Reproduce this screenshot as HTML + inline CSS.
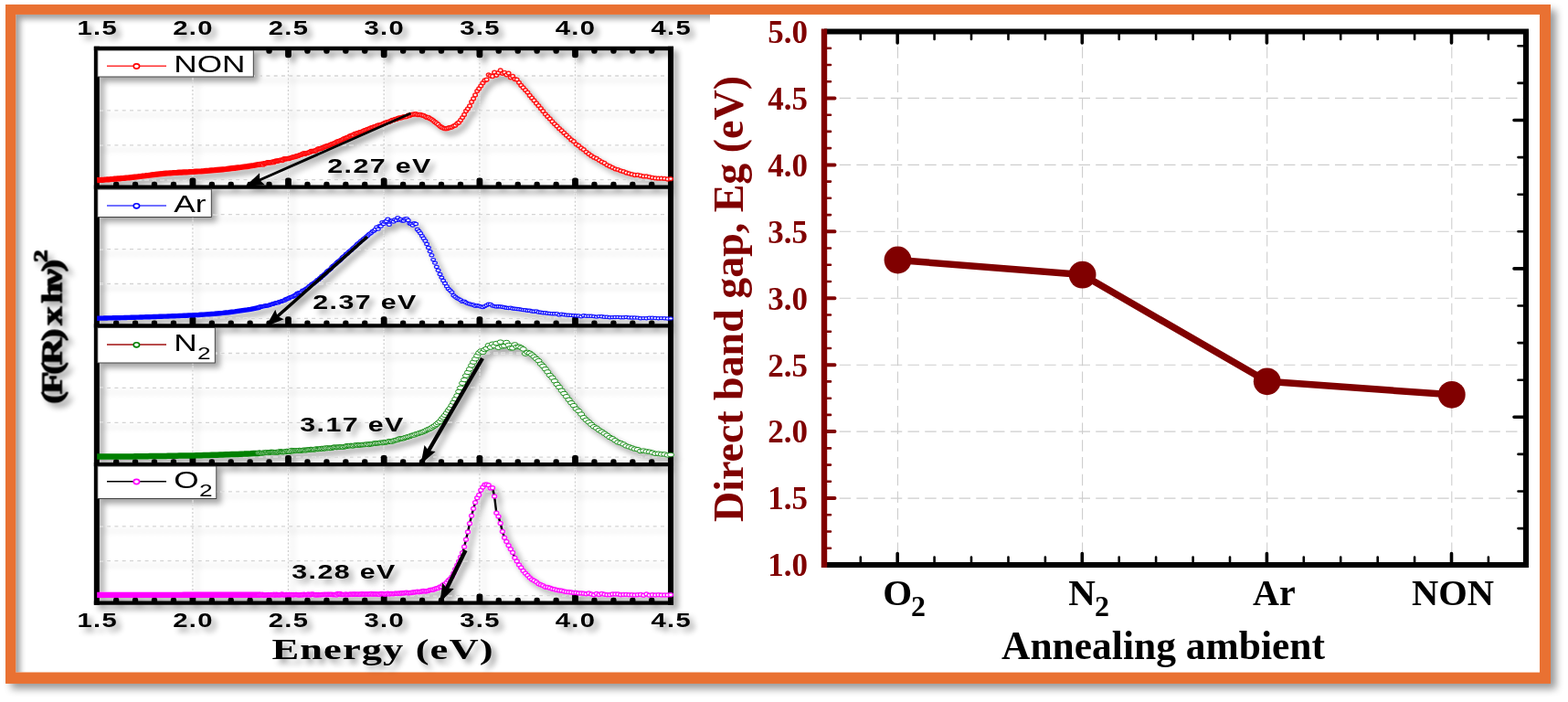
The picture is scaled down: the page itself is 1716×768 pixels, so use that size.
<!DOCTYPE html>
<html lang="en"><head><meta charset="utf-8"><title>Tauc plots and direct band gap versus annealing ambient</title>
<style>
html,body{margin:0;padding:0;background:#fff;}
body{width:1716px;height:768px;overflow:hidden;}
svg{display:block;}
.sb{font-family:"Liberation Sans",sans-serif;font-weight:bold;}
.sr{font-family:"Liberation Sans",sans-serif;}
.tb{font-family:"Liberation Serif",serif;font-weight:bold;}
</style></head><body>
<svg width="1716" height="768" viewBox="0 0 1716 768">
<defs>
<filter id="fsh" x="-5%" y="-5%" width="112%" height="112%"><feGaussianBlur in="SourceAlpha" stdDeviation="3.2"/><feOffset dx="5" dy="5"/><feComponentTransfer><feFuncA type="linear" slope="0.38"/></feComponentTransfer><feMerge><feMergeNode/><feMergeNode in="SourceGraphic"/></feMerge></filter>
<filter id="lsh" x="-5%" y="-5%" width="112%" height="112%"><feGaussianBlur in="SourceAlpha" stdDeviation="3"/><feOffset dx="5" dy="5"/><feComponentTransfer result="sh"><feFuncA type="linear" slope="0.36"/></feComponentTransfer><feGaussianBlur in="SourceGraphic" stdDeviation="0.4" result="soft"/><feMerge><feMergeNode in="sh"/><feMergeNode in="soft"/></feMerge></filter>
<marker id="m_non" markerWidth="10" markerHeight="10" refX="5" refY="5" markerUnits="userSpaceOnUse"><ellipse cx="5" cy="5" rx="2.3" ry="1.9" fill="#fff" stroke="#ff0000" stroke-opacity="0.88" stroke-width="1.5"/></marker>
<marker id="m_ar" markerWidth="10" markerHeight="10" refX="5" refY="5" markerUnits="userSpaceOnUse"><ellipse cx="5" cy="5" rx="2.4" ry="1.6" fill="#fff" stroke="#0000ff" stroke-opacity="0.88" stroke-width="1.25"/></marker>
<marker id="m_n2" markerWidth="10" markerHeight="10" refX="5" refY="5" markerUnits="userSpaceOnUse"><ellipse cx="5" cy="5" rx="3.6" ry="2.3" fill="#fff" stroke="#008000" stroke-opacity="0.88" stroke-width="1.0"/></marker>
<marker id="m_o2" markerWidth="10" markerHeight="10" refX="5" refY="5" markerUnits="userSpaceOnUse"><ellipse cx="5" cy="5" rx="2.5" ry="2.0" fill="#fff" stroke="#ff00ff" stroke-opacity="0.88" stroke-width="1.5"/></marker>
<marker id="arr" markerWidth="24" markerHeight="20" refX="18" refY="10" orient="auto" markerUnits="userSpaceOnUse"><path d="M0,3 L20,10 L0,17 L3,10 Z" fill="#000"/></marker>
<filter id="osh" x="-5%" y="-5%" width="112%" height="112%"><feGaussianBlur in="SourceAlpha" stdDeviation="4.2"/><feOffset dx="6" dy="6"/><feComponentTransfer><feFuncA type="linear" slope="0.4"/></feComponentTransfer><feMerge><feMergeNode/><feMergeNode in="SourceGraphic"/></feMerge></filter>
<clipPath id="lclip"><rect x="17.1" y="15.7" width="759.9" height="720.1"/></clipPath>
</defs>
<rect x="0" y="0" width="1716" height="768" fill="#fff"/>
<g filter="url(#osh)"><rect x="6.1" y="4.9" width="1690.9" height="742.8" fill="#e97132"/></g>
<rect x="17.1" y="15.7" width="1668" height="720.1" fill="#fff"/>
<g clip-path="url(#lclip)"><g filter="url(#fsh)"><path d="M6.1,4.9H1697V747.7H6.1ZM17.1,15.7V735.8H1685.1V15.7Z" fill="#e97132" fill-rule="evenodd"/></g></g>
<path d="M6.1,4.9H1697V747.7H6.1ZM17.1,15.7V735.8H1685.1V15.7Z" fill="#e97132" fill-rule="evenodd"/>
<g id="left" filter="url(#lsh)">
<path d="M108.8,196.7H731.0 M108.8,158.8H731.0 M108.8,120.9H731.0 M108.8,83.0H731.0 M108.8,348.4H731.0 M108.8,310.5H731.0 M108.8,272.6H731.0 M108.8,234.7H731.0 M108.8,500.2H731.0 M108.8,462.3H731.0 M108.8,424.4H731.0 M108.8,386.5H731.0 M108.8,651.6H731.0 M108.8,613.7H731.0 M108.8,575.8H731.0 M108.8,537.9H731.0" fill="none" stroke="#d3d3d3" stroke-width="1.3" stroke-dasharray="4 4.3"/>
<path d="M210.9,56.0V656.6 M315.5,56.0V656.6 M420.2,56.0V656.6 M524.9,56.0V656.6 M629.5,56.0V656.6" fill="none" stroke="#cecece" stroke-width="1.3" stroke-dasharray="2 2.2"/>
<path d="M105.85,50.85V661.75M734.05,50.85V661.75" fill="none" stroke="#000" stroke-width="6.0"/>
<path d="M102.85,53.0H737.05 M102.85,204.7H737.05 M102.85,356.4H737.05 M102.85,508.2H737.05 M102.85,659.6H737.05" fill="none" stroke="#000" stroke-width="4.3" stroke-linejoin="round"/>
<g fill="#000"><rect x="124.0" y="53.0" width="6.3" height="5.8" rx="2.6" ry="2.2"/><rect x="124.0" y="198.8" width="6.3" height="5.8" rx="2.6" ry="2.2"/><rect x="124.0" y="350.5" width="6.3" height="5.8" rx="2.6" ry="2.2"/><rect x="124.0" y="502.3" width="6.3" height="5.8" rx="2.6" ry="2.2"/><rect x="124.0" y="653.8" width="6.3" height="5.8" rx="2.6" ry="2.2"/><rect x="144.9" y="53.0" width="6.3" height="5.8" rx="2.6" ry="2.2"/><rect x="144.9" y="198.8" width="6.3" height="5.8" rx="2.6" ry="2.2"/><rect x="144.9" y="350.5" width="6.3" height="5.8" rx="2.6" ry="2.2"/><rect x="144.9" y="502.3" width="6.3" height="5.8" rx="2.6" ry="2.2"/><rect x="144.9" y="653.8" width="6.3" height="5.8" rx="2.6" ry="2.2"/><rect x="165.8" y="53.0" width="6.3" height="5.8" rx="2.6" ry="2.2"/><rect x="165.8" y="198.8" width="6.3" height="5.8" rx="2.6" ry="2.2"/><rect x="165.8" y="350.5" width="6.3" height="5.8" rx="2.6" ry="2.2"/><rect x="165.8" y="502.3" width="6.3" height="5.8" rx="2.6" ry="2.2"/><rect x="165.8" y="653.8" width="6.3" height="5.8" rx="2.6" ry="2.2"/><rect x="186.8" y="53.0" width="6.3" height="5.8" rx="2.6" ry="2.2"/><rect x="186.8" y="198.8" width="6.3" height="5.8" rx="2.6" ry="2.2"/><rect x="186.8" y="350.5" width="6.3" height="5.8" rx="2.6" ry="2.2"/><rect x="186.8" y="502.3" width="6.3" height="5.8" rx="2.6" ry="2.2"/><rect x="186.8" y="653.8" width="6.3" height="5.8" rx="2.6" ry="2.2"/><rect x="207.5" y="53.0" width="6.8" height="10.2" rx="2.6" ry="2.2"/><rect x="207.5" y="194.5" width="6.8" height="10.2" rx="2.6" ry="2.2"/><rect x="207.5" y="346.2" width="6.8" height="10.2" rx="2.6" ry="2.2"/><rect x="207.5" y="498.1" width="6.8" height="10.2" rx="2.6" ry="2.2"/><rect x="207.5" y="649.5" width="6.8" height="10.2" rx="2.6" ry="2.2"/><rect x="228.7" y="53.0" width="6.3" height="5.8" rx="2.6" ry="2.2"/><rect x="228.7" y="198.8" width="6.3" height="5.8" rx="2.6" ry="2.2"/><rect x="228.7" y="350.5" width="6.3" height="5.8" rx="2.6" ry="2.2"/><rect x="228.7" y="502.3" width="6.3" height="5.8" rx="2.6" ry="2.2"/><rect x="228.7" y="653.8" width="6.3" height="5.8" rx="2.6" ry="2.2"/><rect x="249.6" y="53.0" width="6.3" height="5.8" rx="2.6" ry="2.2"/><rect x="249.6" y="198.8" width="6.3" height="5.8" rx="2.6" ry="2.2"/><rect x="249.6" y="350.5" width="6.3" height="5.8" rx="2.6" ry="2.2"/><rect x="249.6" y="502.3" width="6.3" height="5.8" rx="2.6" ry="2.2"/><rect x="249.6" y="653.8" width="6.3" height="5.8" rx="2.6" ry="2.2"/><rect x="270.5" y="53.0" width="6.3" height="5.8" rx="2.6" ry="2.2"/><rect x="270.5" y="198.8" width="6.3" height="5.8" rx="2.6" ry="2.2"/><rect x="270.5" y="350.5" width="6.3" height="5.8" rx="2.6" ry="2.2"/><rect x="270.5" y="502.3" width="6.3" height="5.8" rx="2.6" ry="2.2"/><rect x="270.5" y="653.8" width="6.3" height="5.8" rx="2.6" ry="2.2"/><rect x="291.4" y="53.0" width="6.3" height="5.8" rx="2.6" ry="2.2"/><rect x="291.4" y="198.8" width="6.3" height="5.8" rx="2.6" ry="2.2"/><rect x="291.4" y="350.5" width="6.3" height="5.8" rx="2.6" ry="2.2"/><rect x="291.4" y="502.3" width="6.3" height="5.8" rx="2.6" ry="2.2"/><rect x="291.4" y="653.8" width="6.3" height="5.8" rx="2.6" ry="2.2"/><rect x="312.1" y="53.0" width="6.8" height="10.2" rx="2.6" ry="2.2"/><rect x="312.1" y="194.5" width="6.8" height="10.2" rx="2.6" ry="2.2"/><rect x="312.1" y="346.2" width="6.8" height="10.2" rx="2.6" ry="2.2"/><rect x="312.1" y="498.1" width="6.8" height="10.2" rx="2.6" ry="2.2"/><rect x="312.1" y="649.5" width="6.8" height="10.2" rx="2.6" ry="2.2"/><rect x="333.3" y="53.0" width="6.3" height="5.8" rx="2.6" ry="2.2"/><rect x="333.3" y="198.8" width="6.3" height="5.8" rx="2.6" ry="2.2"/><rect x="333.3" y="350.5" width="6.3" height="5.8" rx="2.6" ry="2.2"/><rect x="333.3" y="502.3" width="6.3" height="5.8" rx="2.6" ry="2.2"/><rect x="333.3" y="653.8" width="6.3" height="5.8" rx="2.6" ry="2.2"/><rect x="354.3" y="53.0" width="6.3" height="5.8" rx="2.6" ry="2.2"/><rect x="354.3" y="198.8" width="6.3" height="5.8" rx="2.6" ry="2.2"/><rect x="354.3" y="350.5" width="6.3" height="5.8" rx="2.6" ry="2.2"/><rect x="354.3" y="502.3" width="6.3" height="5.8" rx="2.6" ry="2.2"/><rect x="354.3" y="653.8" width="6.3" height="5.8" rx="2.6" ry="2.2"/><rect x="375.2" y="53.0" width="6.3" height="5.8" rx="2.6" ry="2.2"/><rect x="375.2" y="198.8" width="6.3" height="5.8" rx="2.6" ry="2.2"/><rect x="375.2" y="350.5" width="6.3" height="5.8" rx="2.6" ry="2.2"/><rect x="375.2" y="502.3" width="6.3" height="5.8" rx="2.6" ry="2.2"/><rect x="375.2" y="653.8" width="6.3" height="5.8" rx="2.6" ry="2.2"/><rect x="396.1" y="53.0" width="6.3" height="5.8" rx="2.6" ry="2.2"/><rect x="396.1" y="198.8" width="6.3" height="5.8" rx="2.6" ry="2.2"/><rect x="396.1" y="350.5" width="6.3" height="5.8" rx="2.6" ry="2.2"/><rect x="396.1" y="502.3" width="6.3" height="5.8" rx="2.6" ry="2.2"/><rect x="396.1" y="653.8" width="6.3" height="5.8" rx="2.6" ry="2.2"/><rect x="416.8" y="53.0" width="6.8" height="10.2" rx="2.6" ry="2.2"/><rect x="416.8" y="194.5" width="6.8" height="10.2" rx="2.6" ry="2.2"/><rect x="416.8" y="346.2" width="6.8" height="10.2" rx="2.6" ry="2.2"/><rect x="416.8" y="498.1" width="6.8" height="10.2" rx="2.6" ry="2.2"/><rect x="416.8" y="649.5" width="6.8" height="10.2" rx="2.6" ry="2.2"/><rect x="438.0" y="53.0" width="6.3" height="5.8" rx="2.6" ry="2.2"/><rect x="438.0" y="198.8" width="6.3" height="5.8" rx="2.6" ry="2.2"/><rect x="438.0" y="350.5" width="6.3" height="5.8" rx="2.6" ry="2.2"/><rect x="438.0" y="502.3" width="6.3" height="5.8" rx="2.6" ry="2.2"/><rect x="438.0" y="653.8" width="6.3" height="5.8" rx="2.6" ry="2.2"/><rect x="458.9" y="53.0" width="6.3" height="5.8" rx="2.6" ry="2.2"/><rect x="458.9" y="198.8" width="6.3" height="5.8" rx="2.6" ry="2.2"/><rect x="458.9" y="350.5" width="6.3" height="5.8" rx="2.6" ry="2.2"/><rect x="458.9" y="502.3" width="6.3" height="5.8" rx="2.6" ry="2.2"/><rect x="458.9" y="653.8" width="6.3" height="5.8" rx="2.6" ry="2.2"/><rect x="479.8" y="53.0" width="6.3" height="5.8" rx="2.6" ry="2.2"/><rect x="479.8" y="198.8" width="6.3" height="5.8" rx="2.6" ry="2.2"/><rect x="479.8" y="350.5" width="6.3" height="5.8" rx="2.6" ry="2.2"/><rect x="479.8" y="502.3" width="6.3" height="5.8" rx="2.6" ry="2.2"/><rect x="479.8" y="653.8" width="6.3" height="5.8" rx="2.6" ry="2.2"/><rect x="500.8" y="53.0" width="6.3" height="5.8" rx="2.6" ry="2.2"/><rect x="500.8" y="198.8" width="6.3" height="5.8" rx="2.6" ry="2.2"/><rect x="500.8" y="350.5" width="6.3" height="5.8" rx="2.6" ry="2.2"/><rect x="500.8" y="502.3" width="6.3" height="5.8" rx="2.6" ry="2.2"/><rect x="500.8" y="653.8" width="6.3" height="5.8" rx="2.6" ry="2.2"/><rect x="521.5" y="53.0" width="6.8" height="10.2" rx="2.6" ry="2.2"/><rect x="521.5" y="194.5" width="6.8" height="10.2" rx="2.6" ry="2.2"/><rect x="521.5" y="346.2" width="6.8" height="10.2" rx="2.6" ry="2.2"/><rect x="521.5" y="498.1" width="6.8" height="10.2" rx="2.6" ry="2.2"/><rect x="521.5" y="649.5" width="6.8" height="10.2" rx="2.6" ry="2.2"/><rect x="542.6" y="53.0" width="6.3" height="5.8" rx="2.6" ry="2.2"/><rect x="542.6" y="198.8" width="6.3" height="5.8" rx="2.6" ry="2.2"/><rect x="542.6" y="350.5" width="6.3" height="5.8" rx="2.6" ry="2.2"/><rect x="542.6" y="502.3" width="6.3" height="5.8" rx="2.6" ry="2.2"/><rect x="542.6" y="653.8" width="6.3" height="5.8" rx="2.6" ry="2.2"/><rect x="563.6" y="53.0" width="6.3" height="5.8" rx="2.6" ry="2.2"/><rect x="563.6" y="198.8" width="6.3" height="5.8" rx="2.6" ry="2.2"/><rect x="563.6" y="350.5" width="6.3" height="5.8" rx="2.6" ry="2.2"/><rect x="563.6" y="502.3" width="6.3" height="5.8" rx="2.6" ry="2.2"/><rect x="563.6" y="653.8" width="6.3" height="5.8" rx="2.6" ry="2.2"/><rect x="584.5" y="53.0" width="6.3" height="5.8" rx="2.6" ry="2.2"/><rect x="584.5" y="198.8" width="6.3" height="5.8" rx="2.6" ry="2.2"/><rect x="584.5" y="350.5" width="6.3" height="5.8" rx="2.6" ry="2.2"/><rect x="584.5" y="502.3" width="6.3" height="5.8" rx="2.6" ry="2.2"/><rect x="584.5" y="653.8" width="6.3" height="5.8" rx="2.6" ry="2.2"/><rect x="605.5" y="53.0" width="6.3" height="5.8" rx="2.6" ry="2.2"/><rect x="605.5" y="198.8" width="6.3" height="5.8" rx="2.6" ry="2.2"/><rect x="605.5" y="350.5" width="6.3" height="5.8" rx="2.6" ry="2.2"/><rect x="605.5" y="502.3" width="6.3" height="5.8" rx="2.6" ry="2.2"/><rect x="605.5" y="653.8" width="6.3" height="5.8" rx="2.6" ry="2.2"/><rect x="626.1" y="53.0" width="6.8" height="10.2" rx="2.6" ry="2.2"/><rect x="626.1" y="194.5" width="6.8" height="10.2" rx="2.6" ry="2.2"/><rect x="626.1" y="346.2" width="6.8" height="10.2" rx="2.6" ry="2.2"/><rect x="626.1" y="498.1" width="6.8" height="10.2" rx="2.6" ry="2.2"/><rect x="626.1" y="649.5" width="6.8" height="10.2" rx="2.6" ry="2.2"/><rect x="647.3" y="53.0" width="6.3" height="5.8" rx="2.6" ry="2.2"/><rect x="647.3" y="198.8" width="6.3" height="5.8" rx="2.6" ry="2.2"/><rect x="647.3" y="350.5" width="6.3" height="5.8" rx="2.6" ry="2.2"/><rect x="647.3" y="502.3" width="6.3" height="5.8" rx="2.6" ry="2.2"/><rect x="647.3" y="653.8" width="6.3" height="5.8" rx="2.6" ry="2.2"/><rect x="668.3" y="53.0" width="6.3" height="5.8" rx="2.6" ry="2.2"/><rect x="668.3" y="198.8" width="6.3" height="5.8" rx="2.6" ry="2.2"/><rect x="668.3" y="350.5" width="6.3" height="5.8" rx="2.6" ry="2.2"/><rect x="668.3" y="502.3" width="6.3" height="5.8" rx="2.6" ry="2.2"/><rect x="668.3" y="653.8" width="6.3" height="5.8" rx="2.6" ry="2.2"/><rect x="689.2" y="53.0" width="6.3" height="5.8" rx="2.6" ry="2.2"/><rect x="689.2" y="198.8" width="6.3" height="5.8" rx="2.6" ry="2.2"/><rect x="689.2" y="350.5" width="6.3" height="5.8" rx="2.6" ry="2.2"/><rect x="689.2" y="502.3" width="6.3" height="5.8" rx="2.6" ry="2.2"/><rect x="689.2" y="653.8" width="6.3" height="5.8" rx="2.6" ry="2.2"/><rect x="710.1" y="53.0" width="6.3" height="5.8" rx="2.6" ry="2.2"/><rect x="710.1" y="198.8" width="6.3" height="5.8" rx="2.6" ry="2.2"/><rect x="710.1" y="350.5" width="6.3" height="5.8" rx="2.6" ry="2.2"/><rect x="710.1" y="502.3" width="6.3" height="5.8" rx="2.6" ry="2.2"/><rect x="710.1" y="653.8" width="6.3" height="5.8" rx="2.6" ry="2.2"/></g>
<polyline fill="none" stroke="#ff0000" stroke-width="6.2" stroke-linejoin="round" points="106.2,197.2 107.8,197.1 109.3,197 110.9,196.9 112.4,196.8 114,196.7 115.6,196.5 117.2,196.4 118.9,196.3 120.5,196.2 122.2,196 123.9,195.9 125.6,195.7 127.3,195.6 129,195.4 130.8,195.3 132.6,195.1 134.4,195 136.2,194.8 138,194.6 139.9,194.5 141.7,194.3 143.6,194.1 145.6,193.9 147.5,193.7 149.4,193.5 151.4,193.2 153.4,193 155.4,192.7 157.5,192.5 159.6,192.2 161.6,192 163.8,191.7 165.9,191.4 168.1,191.2 170.3,190.9 172.5,190.6 174.7,190.4 177,190.2 179.3,189.9 181.6,189.7 183.9,189.5 186.3,189.3 188.7,189.2 191.2,189 193.6,188.9 196.1,188.7 198.7,188.6 201.2,188.4 203.8,188.3 206.5,188.2 209.1,188 211.8,187.9 214.5,187.7 217.3,187.5 220.1,187.4 223,187.2 225.8,186.9 228.8,186.7 231.7,186.4 234.7,186.2 237.7,185.9 240.8,185.6 243.9,185.3 247.1,185 250.3,184.6 253.6,184.2 256.9,183.8 260.2,183.4 263.6,183 267.1,182.5 270.6,182.1 274.1,181.5 277.7,181 281.4,180.3 285.1,179.7"/>
<polyline fill="none" stroke="none" marker-start="url(#m_non)" marker-mid="url(#m_non)" marker-end="url(#m_non)" points="283.3,180 284.2,179.7 285.1,179.7 286.1,179.2 287,179.4 287.9,180.2 288.9,178.6 289.8,178.9 290.8,178.5 291.8,178.5 292.7,177.7 293.7,177.7 294.7,178 295.6,177.6 296.6,177.9 297.6,177.1 298.6,177.1 299.6,177.7 300.6,176.4 301.6,176.2 302.6,176.2 303.6,176 304.6,176 305.6,175.6 306.6,175.1 307.6,175.1 308.7,175.6 309.7,175 310.7,173.6 311.8,174.1 312.8,173.6 313.9,173.8 314.9,173.3 316,173.6 317,173.1 318.1,172.8 319.1,172.3 320.2,171.9 321.3,171.8 322.4,171.7 323.5,171.2 324.5,170.7 325.6,170.8 326.7,170.2 327.8,169.8 329,169.3 330.1,169 331.2,168.6 332.3,167.7 333.4,168.4 334.6,167.9 335.7,167.4 336.8,167.3 338,166.8 339.1,166.4 340.3,165.3 341.4,165.5 342.6,165.3 343.8,165.2 345,164.9 346.1,164.4 347.3,163.3 348.5,162.6 349.7,163 350.9,162.4 352.1,162.2 353.3,161.5 354.5,161.1 355.8,160.2 357,160.3 358.2,159.5 359.4,159.3 360.7,158.8 361.9,158.1 363.2,157.7 364.5,157.1 365.7,156.8 367,156.2 368.3,155.3 369.5,154.7 370.8,154.8 372.1,153.8 373.4,153.5 374.7,152.8 376,151.9 377.4,151.3 378.7,151 380,150.4 381.3,149.9 382.7,148.8 384,148.5 385.4,148 386.7,147.9 388.1,146.3 389.5,146.5 390.8,145.7 392.2,145.4 393.6,144.6 395,144.3 396.4,144.1 397.8,143.2 399.2,142.7 400.7,142.1 402.1,141.3 403.5,141.1 405,140.4 406.4,139.6 407.9,139.3 409.4,138.7 410.8,138.5 412.3,137.7 413.8,137 415.3,137.1 416.8,136.4 418.3,135.9 419.8,135.2 421.3,134.5 422.8,133.9 424.4,133.4 425.9,133.2 427.5,132.5 429,131.5 430.6,131.4 432.2,130.5 433.8,130.4 435.3,129.5 436.9,129 438.5,129 440.2,128.5 441.8,127.6 443.4,127.8 445.1,127.6 446.7,126.1 448.4,126.6 450,125.4 451.7,125.2 453.4,125 455.1,124.6 456.8,125.5 458.5,125.5 460.2,125.5 461.9,126.1 463.6,126.4 465.4,127.4 467.1,128.5 468.9,128.5 470.6,129.7 472.4,130.6 474.2,132 476,133.5 477.8,134.7 479.6,136.2 481.5,138.1 483.3,139.2 485.1,140.1 487,140.7 488.9,140.7 490.7,140 492.6,139.5 494.5,139.1 496.4,137.8 498.3,137.2 500.3,135.1 502.2,134 504.1,131.4 506.1,128.6 508.1,125.4 510,121.5 512,119 514,115.9 516.1,111.5 518.1,108 520.1,104 522.2,99.6 524.2,96.9 526.3,93.9 528.4,90.7 530.5,87.9 532.6,87.2 534.7,81.8 536.8,83 539,83.5 541.1,79.2 543.3,82.3 545.5,79.7 547.7,77 549.9,80.3 552.1,79.3 554.3,81.8 556.6,80.1 558.8,84.8 561.1,83.3 563.4,86.6 565.7,87.1 568,90.3 570.3,93.4 572.6,95.9 575,98.6 577.4,101.1 579.7,104.5 582.1,107.2 584.5,109.9 587,113 589.4,115.7 591.9,118.7 594.3,121.6 596.8,124.8 599.3,127.5 601.8,129.9 604.4,133 606.9,135.6 609.5,138 612.1,140.7 614.7,142.9 617.3,145.4 619.9,148 622.6,150.3 625.2,152.9 627.9,154.7 630.6,157.8 633.3,159.5 636.1,161.9 638.8,163.7 641.6,166.3 644.4,168.5 647.2,170.4 650,172.2 652.9,173.4 655.7,175.3 658.6,177.1 661.5,178.5 664.4,180.6 667.4,181.9 670.3,183.3 673.3,184.8 676.3,185.6 679.3,186.8 682.4,187.7 685.4,189 688.5,189.8 691.6,190.7 694.7,191.5 697.9,191.4 701.1,192.2 704.3,192.9 707.5,192.9 710.7,193.6 714,194.4 717.3,194.9 720.6,195.2 723.9,195.2 727.3,195.4 730.6,196 734,195.7"/>
<polyline fill="none" stroke="#0000ff" stroke-width="5.4" stroke-linejoin="round" points="106.2,348.2 107.8,348.2 109.3,348.1 110.9,348.1 112.4,348.1 114,348 115.6,348 117.2,348 118.9,347.9 120.5,347.9 122.2,347.9 123.9,347.8 125.6,347.8 127.3,347.8 129,347.7 130.8,347.7 132.6,347.6 134.4,347.6 136.2,347.5 138,347.5 139.9,347.4 141.7,347.4 143.6,347.3 145.6,347.3 147.5,347.2 149.4,347.1 151.4,347.1 153.4,347 155.4,347 157.5,346.9 159.6,346.8 161.6,346.7 163.8,346.7 165.9,346.6 168.1,346.5 170.3,346.5 172.5,346.4 174.7,346.3 177,346.2 179.3,346.1 181.6,346.1 183.9,346 186.3,345.9 188.7,345.8 191.2,345.7 193.6,345.6 196.1,345.5 198.7,345.4 201.2,345.3 203.8,345.2 206.5,345 209.1,344.9 211.8,344.8 214.5,344.6 217.3,344.5 220.1,344.3 223,344.1 225.8,343.9 228.8,343.7 231.7,343.5 234.7,343.3 237.7,343 240.8,342.7 243.9,342.4 247.1,342 250.3,341.7 253.6,341.3 256.9,340.9 260.2,340.4 263.6,339.9 267.1,339.4 270.6,338.9 274.1,338.3 277.7,337.6 281.4,336.8 285.1,336"/>
<polyline fill="none" stroke="none" marker-start="url(#m_ar)" marker-mid="url(#m_ar)" marker-end="url(#m_ar)" points="283.3,336.3 284.2,335.7 285.1,335.9 286.1,335.3 287,335.2 287.9,335.3 288.9,334.8 289.8,335.1 290.8,334.2 291.8,334.4 292.7,334.2 293.7,334.2 294.7,333.8 295.6,333.4 296.6,333 297.6,332.7 298.6,332.8 299.6,332 300.6,332 301.6,331.5 302.6,331.3 303.6,330.9 304.6,331.2 305.6,330.1 306.6,330 307.6,329.7 308.7,329.4 309.7,329 310.7,328.6 311.8,328.4 312.8,327.3 313.9,327.3 314.9,326.5 316,326.4 317,325.5 318.1,325.1 319.1,324.8 320.2,324.7 321.3,323.9 322.4,323.2 323.5,323 324.5,321.7 325.6,320.8 326.7,320.7 327.8,320.1 329,319.9 330.1,319.5 331.2,317.8 332.3,318.2 333.4,317.2 334.6,316.3 335.7,315.4 336.8,315.2 338,313.7 339.1,312.7 340.3,312.1 341.4,310.8 342.6,310.4 343.8,309.4 345,308.6 346.1,307.7 347.3,306.3 348.5,306.1 349.7,304.5 350.9,304 352.1,302.3 353.3,301.8 354.5,300.5 355.8,299.6 357,298.3 358.2,296.8 359.4,295.9 360.7,295.1 361.9,294.1 363.2,292.3 364.5,290.9 365.7,290.1 367,289.1 368.3,287.7 369.5,286.5 370.8,285.8 372.1,284.7 373.4,283.4 374.7,281.7 376,280.8 377.4,279.6 378.7,278 380,277.4 381.3,276 382.7,274.6 384,273.9 385.4,272.5 386.7,271.3 388.1,270.2 389.5,268.9 390.8,267.1 392.2,266.1 393.6,265.3 395,263.6 396.4,262.6 397.8,261.5 399.2,260.5 400.7,259.3 402.1,258 403.5,256.5 405,255.6 406.4,254.4 407.9,253 409.4,252.4 410.8,251 412.3,248.5 413.8,250.6 415.3,247.1 416.8,247.5 418.3,243.2 419.8,244.9 421.3,242.7 422.8,242 424.4,239.8 425.9,245.7 427.5,241.4 429,241.5 430.6,242.5 432.2,240.2 433.8,241.1 435.3,238.1 436.9,240.6 438.5,239.9 440.2,241.6 441.8,241.5 443.4,239.4 445.1,239.1 446.7,241 448.4,244.5 450,245.1 451.7,246.4 453.4,244.2 455.1,244.9 456.8,251 458.5,253 460.2,255.2 461.9,258.1 463.6,260.7 465.4,263.5 467.1,266.9 468.9,271 470.6,275.1 472.4,279.3 474.2,284.1 476,287.6 477.8,291.9 479.6,295.8 481.5,299.9 483.3,303.6 485.1,307 487,310 488.9,313.2 490.7,315.9 492.6,317.8 494.5,319.6 496.4,323.3 498.3,324.7 500.3,326.2 502.2,327.1 504.1,328.2 506.1,329.9 508.1,329.6 510,331 512,332.1 514,332.5 516.1,333.2 518.1,333.5 520.1,334.7 522.2,334.2 524.2,334.6 526.3,335.5 528.4,336 530.5,335.1 532.6,333.9 534.7,332.7 536.8,332.9 539,334.4 541.1,335.1 543.3,335.5 545.5,335.3 547.7,335.4 549.9,335.7 552.1,336.3 554.3,336.8 556.6,337 558.8,336.7 561.1,337.5 563.4,337.7 565.7,338 568,338.3 570.3,338.6 572.6,339.1 575,339.3 577.4,339.7 579.7,339.8 582.1,340.5 584.5,340.7 587,340.5 589.4,341.5 591.9,341.7 594.3,342.3 596.8,342.3 599.3,342.7 601.8,343 604.4,343.2 606.9,343.3 609.5,343.2 612.1,344.4 614.7,343.6 617.3,344.2 619.9,344.6 622.6,344.7 625.2,344.9 627.9,345.2 630.6,345.5 633.3,345.4 636.1,346.2 638.8,345.3 641.6,345.7 644.4,345.7 647.2,345.8 650,346.1 652.9,346.6 655.7,346.1 658.6,346.2 661.5,346.7 664.4,346.7 667.4,347.2 670.3,347.1 673.3,347 676.3,346.9 679.3,347.2 682.4,347.2 685.4,346.9 688.5,347.4 691.6,347.5 694.7,347.5 697.9,347.6 701.1,348.3 704.3,348.1 707.5,348.2 710.7,347.8 714,347.8 717.3,348 720.6,348.2 723.9,348.1 727.3,348.2 730.6,348.5 734,348.4"/>
<polyline fill="none" stroke="#008000" stroke-width="6.5" stroke-linejoin="round" points="106.2,499.6 107.8,499.6 109.3,499.6 110.9,499.6 112.4,499.6 114,499.6 115.6,499.6 117.2,499.6 118.9,499.6 120.5,499.6 122.2,499.6 123.9,499.5 125.6,499.5 127.3,499.5 129,499.5 130.8,499.5 132.6,499.5 134.4,499.5 136.2,499.5 138,499.4 139.9,499.4 141.7,499.4 143.6,499.4 145.6,499.4 147.5,499.3 149.4,499.3 151.4,499.3 153.4,499.3 155.4,499.2 157.5,499.2 159.6,499.2 161.6,499.2 163.8,499.1 165.9,499.1 168.1,499.1 170.3,499 172.5,499 174.7,499 177,498.9 179.3,498.9 181.6,498.9 183.9,498.8 186.3,498.8 188.7,498.8 191.2,498.7 193.6,498.7 196.1,498.6 198.7,498.6 201.2,498.5 203.8,498.5 206.5,498.5 209.1,498.4 211.8,498.4 214.5,498.3 217.3,498.2 220.1,498.2 223,498.1 225.8,498 228.8,497.9 231.7,497.8 234.7,497.8 237.7,497.7 240.8,497.6 243.9,497.5 247.1,497.3 250.3,497.2 253.6,497.1 256.9,497 260.2,496.9 263.6,496.7 267.1,496.6 270.6,496.4 274.1,496.3 277.7,496.1 281.4,495.9 285.1,495.7"/>
<polyline fill="none" stroke="none" marker-start="url(#m_n2)" marker-mid="url(#m_n2)" marker-end="url(#m_n2)" points="283.3,495.5 284.2,495.6 285.1,495.5 286.1,495.9 287,495.8 287.9,495.2 288.9,495.6 289.8,495.2 290.8,495.4 291.8,495.1 292.7,494.8 293.7,495.4 294.7,495.2 295.6,494.7 296.6,494.4 297.6,494.7 298.6,494.5 299.6,494.7 300.6,494.9 301.6,495 302.6,494.5 303.6,494.9 304.6,494.8 305.6,494.2 306.6,493.8 307.6,494.5 308.7,494.3 309.7,494.7 310.7,494.4 311.8,494.2 312.8,494.4 313.9,493.5 314.9,493.8 316,493.6 317,494.1 318.1,493.7 319.1,492.6 320.2,493.7 321.3,493 322.4,493.4 323.5,493 324.5,493.1 325.6,493.1 326.7,492.9 327.8,492.5 329,493.1 330.1,492.7 331.2,492.5 332.3,492.6 333.4,492.2 334.6,492.8 335.7,492.2 336.8,492.2 338,492.1 339.1,491.7 340.3,491.5 341.4,491.8 342.6,491.7 343.8,491.9 345,491.6 346.1,491 347.3,491.4 348.5,491.4 349.7,491.3 350.9,491 352.1,490.5 353.3,491 354.5,490.4 355.8,490.7 357,490 358.2,490.5 359.4,489.9 360.7,490.4 361.9,490.4 363.2,490.1 364.5,489.4 365.7,489.3 367,489.2 368.3,489.5 369.5,489.3 370.8,489.1 372.1,489.1 373.4,489 374.7,488.9 376,489.1 377.4,488.4 378.7,488.4 380,487.7 381.3,487.7 382.7,487.7 384,487.4 385.4,487.7 386.7,487.8 388.1,487.2 389.5,487.1 390.8,486.9 392.2,487 393.6,486.7 395,486.8 396.4,486.6 397.8,486.5 399.2,486.5 400.7,486.2 402.1,486.1 403.5,486.4 405,485.7 406.4,485.8 407.9,485.5 409.4,485.2 410.8,485 412.3,484.8 413.8,484.8 415.3,484.5 416.8,484.3 418.3,484.6 419.8,484 421.3,484.1 422.8,483.6 424.4,483.5 425.9,482.8 427.5,482.7 429,483.1 430.6,482.2 432.2,481.9 433.8,481.3 435.3,481.1 436.9,480.1 438.5,479.8 440.2,479.8 441.8,479.5 443.4,478.7 445.1,478.3 446.7,477.8 448.4,477.4 450,476.6 451.7,476.1 453.4,475.9 455.1,474.9 456.8,474.6 458.5,474 460.2,473.3 461.9,473 463.6,472.1 465.4,471.5 467.1,470.4 468.9,469.6 470.6,469 472.4,468 474.2,466.7 476,465.7 477.8,464.3 479.6,462.6 481.5,461.2 483.3,458.6 485.1,456.7 487,454.4 488.9,451.9 490.7,449 492.6,446.7 494.5,443.5 496.4,440.1 498.3,436.6 500.3,432.9 502.2,428.4 504.1,424.3 506.1,419.2 508.1,415.5 510,411 512,407.4 514,403.8 516.1,399.8 518.1,396.1 520.1,392.7 522.2,389.2 524.2,386 526.3,384 528.4,385.3 530.5,382.5 532.6,381.2 534.7,377.8 536.8,380 539,376.3 541.1,378.6 543.3,375.6 545.5,380.2 547.7,374.2 549.9,378.9 552.1,378.4 554.3,374.6 556.6,377.5 558.8,380.7 561.1,380.8 563.4,377 565.7,379.5 568,379.2 570.3,380.3 572.6,381.9 575,387 577.4,385.5 579.7,386.3 582.1,388.1 584.5,390.2 587,392.5 589.4,394.7 591.9,398.2 594.3,400.5 596.8,403.7 599.3,406.9 601.8,410.5 604.4,413.2 606.9,416.8 609.5,420.5 612.1,423.6 614.7,427.2 617.3,430.5 619.9,433.8 622.6,437.3 625.2,440.7 627.9,443.7 630.6,447.3 633.3,449.6 636.1,453.1 638.8,456.8 641.6,459.4 644.4,461.8 647.2,464.4 650,466.8 652.9,468.3 655.7,470.6 658.6,472.3 661.5,474.2 664.4,476.2 667.4,478.5 670.3,479.8 673.3,481.8 676.3,483.8 679.3,484.7 682.4,486 685.4,487.9 688.5,488.9 691.6,490 694.7,491.1 697.9,491.7 701.1,493.5 704.3,493.1 707.5,493.9 710.7,494.3 714,495.2 717.3,496.3 720.6,496.3 723.9,496.9 727.3,497 730.6,497.9 734,497.5"/>
<polyline fill="none" stroke="#ff00ff" stroke-width="6.4" stroke-linejoin="round" points="106.2,650.9 107.8,650.9 109.3,650.9 110.9,650.9 112.4,650.9 114,650.9 115.6,650.9 117.2,650.9 118.9,650.9 120.5,650.9 122.2,650.9 123.9,650.9 125.6,650.9 127.3,650.9 129,650.9 130.8,650.9 132.6,650.9 134.4,650.9 136.2,650.9 138,650.9 139.9,650.9 141.7,650.9 143.6,650.9 145.6,650.9 147.5,650.9 149.4,650.9 151.4,650.9 153.4,650.9 155.4,650.9 157.5,650.9 159.6,650.9 161.6,650.9 163.8,650.9 165.9,650.9 168.1,650.9 170.3,650.9 172.5,650.9 174.7,650.9 177,650.9 179.3,650.9 181.6,650.9 183.9,650.9 186.3,650.9 188.7,650.9 191.2,650.9 193.6,650.9 196.1,650.9 198.7,650.9 201.2,650.8 203.8,650.8 206.5,650.8 209.1,650.8 211.8,650.8 214.5,650.8 217.3,650.8 220.1,650.8 223,650.8 225.8,650.8 228.8,650.8 231.7,650.8 234.7,650.8 237.7,650.8 240.8,650.8 243.9,650.8 247.1,650.8 250.3,650.8 253.6,650.8 256.9,650.8 260.2,650.8 263.6,650.8 267.1,650.8 270.6,650.8 274.1,650.7 277.7,650.7 281.4,650.7 285.1,650.7"/>
<polyline fill="none" stroke="#000" stroke-width="2.4" points="490.7,635 492.6,633.5 494.5,631 496.4,627.2 498.3,622.7 500.3,618.5 502.2,614.3 504.1,609.4 506.1,604.7 508.1,598.3 510,590.3 512,582 514,572.7 516.1,564.3 518.1,556.6 520.1,549.8 522.2,544.7 524.2,541.5 526.3,536.3 528.4,533.1 530.5,530.2 532.6,530.1 534.7,530.7 536.8,533.9 539,533.8 541.1,543 543.3,561.2 545.5,565.1 547.7,572.6 549.9,581.6 552.1,588.2 554.3,592.6 556.6,596.8 558.8,600.8 561.1,604.5 563.4,610.2 565.7,614 568,618 570.3,620.9 572.6,624.6 575,627.3 577.4,629.5 579.7,631.9 582.1,634.1 584.5,635.3"/>
<polyline fill="none" stroke="none" marker-start="url(#m_o2)" marker-mid="url(#m_o2)" marker-end="url(#m_o2)" points="283.3,651.1 284.2,651.1 285.1,650.6 286.1,651 287,650.3 287.9,651 288.9,651.5 289.8,650.9 290.8,650.9 291.8,650.8 292.7,651 293.7,650.6 294.7,650.9 295.6,650.7 296.6,650.6 297.6,650.8 298.6,650.7 299.6,650.2 300.6,651.3 301.6,650.8 302.6,650.3 303.6,651 304.6,650.7 305.6,650.8 306.6,650.9 307.6,650.5 308.7,649.9 309.7,650.7 310.7,650.8 311.8,651 312.8,650.5 313.9,650.6 314.9,650.8 316,650.6 317,650.6 318.1,650.8 319.1,650.4 320.2,651.1 321.3,650.4 322.4,650.7 323.5,650.6 324.5,650.5 325.6,650.8 326.7,650.9 327.8,651.1 329,650.8 330.1,650.5 331.2,650.9 332.3,650.2 333.4,650.6 334.6,650.8 335.7,650.8 336.8,650.3 338,650.2 339.1,651.1 340.3,650.5 341.4,650.1 342.6,650.2 343.8,650.6 345,650.9 346.1,650.6 347.3,650.9 348.5,650.6 349.7,650.7 350.9,650.8 352.1,650.4 353.3,650.6 354.5,650.4 355.8,650.3 357,650.7 358.2,650.3 359.4,650.5 360.7,650.2 361.9,650.4 363.2,650.3 364.5,650.7 365.7,650.5 367,650.4 368.3,650.9 369.5,649.6 370.8,650.1 372.1,649.6 373.4,650.4 374.7,650.5 376,650.5 377.4,650.4 378.7,650.1 380,650.8 381.3,650.4 382.7,650.2 384,649.9 385.4,650.4 386.7,650.1 388.1,650.1 389.5,650.3 390.8,650.3 392.2,649.9 393.6,650.5 395,649.9 396.4,649.8 397.8,650.2 399.2,650.1 400.7,650.1 402.1,649.9 403.5,650 405,649.9 406.4,649.5 407.9,650.2 409.4,649.7 410.8,649.9 412.3,650.1 413.8,649.9 415.3,650.6 416.8,649.5 418.3,649.6 419.8,649.8 421.3,650.2 422.8,649.7 424.4,649.3 425.9,650 427.5,649.4 429,649.5 430.6,649.8 432.2,649.3 433.8,649.2 435.3,649.4 436.9,649.1 438.5,649.2 440.2,648.8 441.8,648.9 443.4,648.5 445.1,648.3 446.7,649.1 448.4,648.6 450,648.6 451.7,647.9 453.4,648 455.1,647.8 456.8,647.3 458.5,647.7 460.2,647.2 461.9,647.1 463.6,646.5 465.4,647 467.1,646.7 468.9,646.2 470.6,645.5 472.4,645.2 474.2,645.2 476,644.3 477.8,643.8 479.6,643.2 481.5,642.1 483.3,641.9 485.1,639.7 487,639 488.9,637.3 490.7,635 492.6,633.5 494.5,631 496.4,627.2 498.3,622.7 500.3,618.5 502.2,614.3 504.1,609.4 506.1,604.7 508.1,598.3 510,590.3 512,582 514,572.7 516.1,564.3 518.1,556.6 520.1,549.8 522.2,544.7 524.2,541.5 526.3,536.3 528.4,533.1 530.5,530.2 532.6,530.1 534.7,530.7 536.8,533.9 539,533.8 541.1,543 543.3,561.2 545.5,565.1 547.7,572.6 549.9,581.6 552.1,588.2 554.3,592.6 556.6,596.8 558.8,600.8 561.1,604.5 563.4,610.2 565.7,614 568,618 570.3,620.9 572.6,624.6 575,627.3 577.4,629.5 579.7,631.9 582.1,634.1 584.5,635.3 587,636.7 589.4,638.7 591.9,639.7 594.3,640.7 596.8,642.3 599.3,642.6 601.8,643.3 604.4,644.2 606.9,644.7 609.5,645.5 612.1,646.1 614.7,646.3 617.3,646.9 619.9,647.4 622.6,647.8 625.2,648.1 627.9,648.5 630.6,648.6 633.3,649 636.1,649 638.8,649.2 641.6,649.8 644.4,649.1 647.2,649.9 650,650.7 652.9,649.4 655.7,650.4 658.6,649.6 661.5,650.3 664.4,650.7 667.4,650.7 670.3,650.1 673.3,650 676.3,650.1 679.3,650.7 682.4,650.5 685.4,650.6 688.5,650.7 691.6,650.8 694.7,650.9 697.9,650.8 701.1,650.4 704.3,651.3 707.5,650.1 710.7,651.3 714,650.8 717.3,650.9 720.6,650.8 723.9,650.9 727.3,651 730.6,650.9 734,650.7"/>
<line x1="449.5" y1="124" x2="270.5" y2="203" stroke="#000" stroke-width="2.8" marker-end="url(#arr)"/>
<line x1="402" y1="259" x2="292.5" y2="356" stroke="#000" stroke-width="3.6" marker-end="url(#arr)"/>
<line x1="528" y1="392" x2="461.5" y2="506" stroke="#000" stroke-width="4.4" marker-end="url(#arr)"/>
<line x1="509.5" y1="602" x2="482.5" y2="657" stroke="#000" stroke-width="4.4" marker-end="url(#arr)"/>
<rect x="106.8" y="55" width="170.5" height="29" fill="#fff" stroke="#333" stroke-width="0.9"/>
<line x1="117" y1="72.2" x2="182" y2="72.2" stroke="#ff3030" stroke-width="1.4"/>
<ellipse cx="149.4" cy="72.5" rx="3.2" ry="2.6" fill="#fff" stroke="#ff0000" stroke-width="1.6"/>
<text class="sr" transform="translate(190.3,79.0) scale(1.38,1)" font-size="25.5" fill="#000">NON</text>
<rect x="106.8" y="207" width="124.5" height="30.5" fill="#fff" stroke="#333" stroke-width="0.9"/>
<line x1="117" y1="225" x2="182" y2="225" stroke="#4040ff" stroke-width="1.4"/>
<ellipse cx="149.4" cy="225.3" rx="3.2" ry="2.6" fill="#fff" stroke="#0000ff" stroke-width="1.6"/>
<text class="sr" transform="translate(190.3,231.8) scale(1.38,1)" font-size="25.5" fill="#000">Ar</text>
<rect x="106.8" y="358.5" width="128.5" height="38.5" fill="#fff" stroke="#333" stroke-width="0.9"/>
<line x1="117" y1="377" x2="182" y2="377" stroke="#a01010" stroke-width="1.4"/>
<ellipse cx="149.4" cy="377.3" rx="3.2" ry="2.6" fill="#fff" stroke="#008000" stroke-width="1.6"/>
<text class="sr" transform="translate(190.3,383.8) scale(1.38,1)" font-size="25.5" fill="#000">N<tspan dy="9.5" dx="0.3" font-size="19">2</tspan></text>
<rect x="106.8" y="510" width="130" height="35.5" fill="#fff" stroke="#333" stroke-width="0.9"/>
<line x1="117" y1="526.7" x2="182" y2="526.7" stroke="#000000" stroke-width="1.4"/>
<ellipse cx="149.4" cy="527.0" rx="3.2" ry="2.6" fill="#fff" stroke="#ff00ff" stroke-width="1.6"/>
<text class="sr" transform="translate(190.3,533.5) scale(1.38,1)" font-size="25.5" fill="#000">O<tspan dy="9.5" dx="0.3" font-size="19">2</tspan></text>
<text class="sb" transform="translate(415.5,189.3) scale(1.38,1)" font-size="22" text-anchor="middle" fill="#000" letter-spacing="1">2.27 eV</text>
<text class="sb" transform="translate(399.5,338.3) scale(1.38,1)" font-size="22" text-anchor="middle" fill="#000" letter-spacing="1">2.37 eV</text>
<text class="sb" transform="translate(385.5,471.5) scale(1.38,1)" font-size="22" text-anchor="middle" fill="#000" letter-spacing="1">3.17 eV</text>
<text class="sb" transform="translate(376.5,632.8) scale(1.38,1)" font-size="22" text-anchor="middle" fill="#000" letter-spacing="1">3.28 eV</text>
<text class="sb" transform="translate(106.8,38.0) scale(1.34,1)" font-size="21.8" text-anchor="middle" fill="#000" letter-spacing="1">1.5</text>
<text class="sb" transform="translate(106.8,686.2) scale(1.34,1)" font-size="21.8" text-anchor="middle" fill="#000" letter-spacing="1">1.5</text>
<text class="sb" transform="translate(211.5,38.0) scale(1.34,1)" font-size="21.8" text-anchor="middle" fill="#000" letter-spacing="1">2.0</text>
<text class="sb" transform="translate(211.5,686.2) scale(1.34,1)" font-size="21.8" text-anchor="middle" fill="#000" letter-spacing="1">2.0</text>
<text class="sb" transform="translate(316.1,38.0) scale(1.34,1)" font-size="21.8" text-anchor="middle" fill="#000" letter-spacing="1">2.5</text>
<text class="sb" transform="translate(316.1,686.2) scale(1.34,1)" font-size="21.8" text-anchor="middle" fill="#000" letter-spacing="1">2.5</text>
<text class="sb" transform="translate(420.8,38.0) scale(1.34,1)" font-size="21.8" text-anchor="middle" fill="#000" letter-spacing="1">3.0</text>
<text class="sb" transform="translate(420.8,686.2) scale(1.34,1)" font-size="21.8" text-anchor="middle" fill="#000" letter-spacing="1">3.0</text>
<text class="sb" transform="translate(525.5,38.0) scale(1.34,1)" font-size="21.8" text-anchor="middle" fill="#000" letter-spacing="1">3.5</text>
<text class="sb" transform="translate(525.5,686.2) scale(1.34,1)" font-size="21.8" text-anchor="middle" fill="#000" letter-spacing="1">3.5</text>
<text class="sb" transform="translate(630.1,38.0) scale(1.34,1)" font-size="21.8" text-anchor="middle" fill="#000" letter-spacing="1">4.0</text>
<text class="sb" transform="translate(630.1,686.2) scale(1.34,1)" font-size="21.8" text-anchor="middle" fill="#000" letter-spacing="1">4.0</text>
<text class="sb" transform="translate(734.8,38.0) scale(1.34,1)" font-size="21.8" text-anchor="middle" fill="#000" letter-spacing="1">4.5</text>
<text class="sb" transform="translate(734.8,686.2) scale(1.34,1)" font-size="21.8" text-anchor="middle" fill="#000" letter-spacing="1">4.5</text>
<text class="tb" transform="translate(419,721.3) scale(1.37,1)" font-size="32.5" text-anchor="middle" fill="#000" letter-spacing="0.8">Energy (eV)</text>
<text class="tb" transform="translate(67.5,441.8) rotate(-90) scale(1.28,1)" font-size="32" fill="#000" stroke="#000" stroke-width="1.1" stroke-linejoin="round" textLength="131.5" lengthAdjust="spacing">(F(R) x hν)<tspan dy="-16.5" font-size="21">2</tspan></text>
</g>
<g id="right">
<path d="M900.0,545.1H1667.0 M900.0,472.1H1667.0 M900.0,399.2H1667.0 M900.0,326.2H1667.0 M900.0,253.3H1667.0 M900.0,180.4H1667.0 M900.0,107.4H1667.0 M982.5,32.5V615.0 M1184.6,32.5V615.0 M1386.7,32.5V615.0 M1588.8,32.5V615.0" fill="none" stroke="#cdcdcd" stroke-width="1.1" stroke-dasharray="12.5 6.2"/>
<path d="M902.0,34.5H1673.0M902.0,618.0H1673.0" stroke="#000" stroke-width="6.2" fill="none"/>
<path d="M1670.0,34.5V618.0" stroke="#000" stroke-width="6.2" fill="none"/>
<path d="M902.0,31.4V621.1" stroke="#800000" stroke-width="6.4" fill="none"/>
<path d="M941.8,34.5v8.5 M941.8,618.0v-8.5 M1022.6,34.5v8.5 M1022.6,618.0v-8.5 M1063.0,34.5v8.5 M1063.0,618.0v-8.5 M1103.5,34.5v8.5 M1103.5,618.0v-8.5 M1143.9,34.5v8.5 M1143.9,618.0v-8.5 M1224.7,34.5v8.5 M1224.7,618.0v-8.5 M1265.1,34.5v8.5 M1265.1,618.0v-8.5 M1305.6,34.5v8.5 M1305.6,618.0v-8.5 M1346.0,34.5v8.5 M1346.0,618.0v-8.5 M1426.8,34.5v8.5 M1426.8,618.0v-8.5 M1467.2,34.5v8.5 M1467.2,618.0v-8.5 M1507.7,34.5v8.5 M1507.7,618.0v-8.5 M1548.1,34.5v8.5 M1548.1,618.0v-8.5 M1628.9,34.5v8.5 M1628.9,618.0v-8.5 M1670.0,578.1h-8.5 M1670.0,537.5h-8.5 M1670.0,496.9h-8.5 M1670.0,415.7h-8.5 M1670.0,375.1h-8.5 M1670.0,334.5h-8.5 M1670.0,253.3h-8.5 M1670.0,212.7h-8.5 M1670.0,172.1h-8.5 M1670.0,90.9h-8.5 M1670.0,50.3h-8.5" stroke="#000" stroke-width="2.6" stroke-linecap="round" fill="none"/>
<path d="M982.2,34.5v12.5 M982.2,618.0v-12.5 M1184.3,34.5v12.5 M1184.3,618.0v-12.5 M1386.4,34.5v12.5 M1386.4,618.0v-12.5 M1588.5,34.5v12.5 M1588.5,618.0v-12.5 M1670.0,456.3h-13 M1670.0,293.9h-13 M1670.0,131.5h-13" stroke="#000" stroke-width="3.6" stroke-linecap="round" fill="none"/>
<path d="M902.0,599.8h7 M902.0,581.5h7 M902.0,563.3h7 M902.0,526.8h7 M902.0,508.6h7 M902.0,490.4h7 M902.0,453.9h7 M902.0,435.7h7 M902.0,417.4h7 M902.0,381.0h7 M902.0,362.7h7 M902.0,344.5h7 M902.0,308.0h7 M902.0,289.8h7 M902.0,271.5h7 M902.0,235.1h7 M902.0,216.8h7 M902.0,198.6h7 M902.0,162.1h7 M902.0,143.9h7 M902.0,125.7h7 M902.0,89.2h7 M902.0,71.0h7 M902.0,52.7h7" stroke="#800000" stroke-width="2.6" stroke-linecap="round" fill="none"/>
<path d="M902.0,545.1h11.5 M902.0,472.1h11.5 M902.0,399.2h11.5 M902.0,326.2h11.5 M902.0,253.3h11.5 M902.0,180.4h11.5 M902.0,107.4h11.5" stroke="#800000" stroke-width="4" stroke-linecap="round" fill="none"/>
<polyline points="982.5,284.5 1184.6,300.6 1386.7,417.3 1588.8,431.8" fill="none" stroke="#800000" stroke-width="7.5" stroke-linejoin="round"/>
<circle cx="982.5" cy="284.5" r="14.9" fill="#800000"/>
<circle cx="1184.6" cy="300.6" r="14.9" fill="#800000"/>
<circle cx="1386.7" cy="417.3" r="14.9" fill="#800000"/>
<circle cx="1588.8" cy="431.8" r="14.9" fill="#800000"/>
<text class="tb" x="884" y="630.3" font-size="35" text-anchor="end" fill="#800000">1.0</text>
<text class="tb" x="884" y="557.4" font-size="35" text-anchor="end" fill="#800000">1.5</text>
<text class="tb" x="884" y="484.4" font-size="35" text-anchor="end" fill="#800000">2.0</text>
<text class="tb" x="884" y="411.5" font-size="35" text-anchor="end" fill="#800000">2.5</text>
<text class="tb" x="884" y="338.6" font-size="35" text-anchor="end" fill="#800000">3.0</text>
<text class="tb" x="884" y="265.6" font-size="35" text-anchor="end" fill="#800000">3.5</text>
<text class="tb" x="884" y="192.7" font-size="35" text-anchor="end" fill="#800000">4.0</text>
<text class="tb" x="884" y="119.7" font-size="35" text-anchor="end" fill="#800000">4.5</text>
<text class="tb" x="884" y="46.8" font-size="35" text-anchor="end" fill="#800000">5.0</text>
<text class="tb" x="966.2" y="662.3" font-size="41" fill="#000">O<tspan dy="12" dx="-1" font-size="32">2</tspan></text>
<text class="tb" x="1169.3" y="662.3" font-size="41" fill="#000">N<tspan dy="12" dx="-1" font-size="32">2</tspan></text>
<text class="tb" x="1394.4" y="662.3" font-size="40" text-anchor="middle" fill="#000">Ar</text>
<text class="tb" x="1590.0" y="662.3" font-size="40.5" text-anchor="middle" fill="#000">NON</text>
<text class="tb" x="1096" y="720.5" font-size="43.5" fill="#000" textLength="354" lengthAdjust="spacing">Annealing ambient</text>
<text class="tb" transform="translate(813,571) rotate(-90)" font-size="46" fill="#800000" textLength="488" lengthAdjust="spacing">Direct band gap, Eg (eV)</text>
</g>
</svg></body></html>
